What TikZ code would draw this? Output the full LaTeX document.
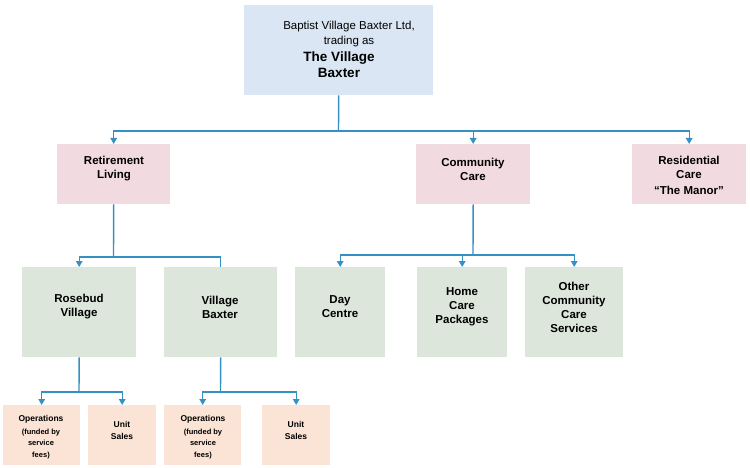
\documentclass[tikz,border=0pt]{standalone}
\usepackage{fontspec}
\setmainfont{Liberation Sans}
\usetikzlibrary{arrows.meta}
\definecolor{cblue}{HTML}{DAE6F3}
\definecolor{cpink}{HTML}{F2DBE0}
\definecolor{cgreen}{HTML}{DCE6DB}
\definecolor{cpeach}{HTML}{FBE4D5}
\definecolor{cline}{HTML}{3590C4}
\tikzset{
  box/.style={draw=none,inner sep=0pt,anchor=north west},
  lbl/.style={align=center,inner sep=0pt,font=\bfseries\fontsize{11.5}{14}\selectfont},
  sml/.style={align=center,inner sep=0pt,font=\bfseries\fontsize{8}{11.5}\selectfont},
  conn/.style={draw=cline,line width=1.4pt},
  arr/.style={conn,-{Triangle[length=6pt,width=6.5pt]}}
}
\begin{document}
\begin{tikzpicture}[x=1pt,y=-1pt]
\useasboundingbox[fill=white] (0,0) rectangle (750,468);
% boxes
\node[box,fill=cblue,minimum width=189pt,minimum height=90pt] (top) at (244,5) {};
\node[box,fill=cpink,minimum width=113pt,minimum height=60pt] (rl) at (57,144) {};
\node[box,fill=cpink,minimum width=114pt,minimum height=60pt] (cc) at (416,144) {};
\node[box,fill=cpink,minimum width=114pt,minimum height=60pt] (rc) at (632,144) {};
\node[box,fill=cgreen,minimum width=114pt,minimum height=90pt] (rv) at (22,267) {};
\node[box,fill=cgreen,minimum width=113pt,minimum height=90pt] (vb) at (164,267) {};
\node[box,fill=cgreen,minimum width=90pt,minimum height=90pt] (dc) at (295,267) {};
\node[box,fill=cgreen,minimum width=90pt,minimum height=90pt] (hc) at (417,267) {};
\node[box,fill=cgreen,minimum width=98pt,minimum height=90pt] (oc) at (525,267) {};
\node[box,fill=cpeach,minimum width=77pt,minimum height=60pt] (op1) at (3,405) {};
\node[box,fill=cpeach,minimum width=68pt,minimum height=60pt] (us1) at (88,405) {};
\node[box,fill=cpeach,minimum width=77pt,minimum height=60pt] (op2) at (164,405) {};
\node[box,fill=cpeach,minimum width=68pt,minimum height=60pt] (us2) at (262,405) {};
% texts
\node[align=center,inner sep=0pt,font=\fontsize{11.5}{15}\selectfont] (t1) at (349,34) {Baptist Village Baxter Ltd,\\trading as};
\node[lbl,font=\bfseries\fontsize{13.5}{16}\selectfont] (t2) at (339,65) {The Village\\Baxter};
\node[lbl] (trl) at (114,169) {Retirement\\Living};
\node[lbl] (tcc) at (473,169) {Community\\Care};
\node[lbl] (trc) at (689,175) {Residential\\Care\\[2pt]``The Manor''};
\node[lbl] (trv) at (79,307) {Rosebud\\Village};
\node[lbl] (tvb) at (220,307) {Village\\Baxter};
\node[lbl] (tdc) at (340,307) {Day\\Centre};
\node[lbl] (thc) at (462,307) {Home\\Care\\Packages};
\node[lbl] (toc) at (574,307) {Other\\Community\\Care\\Services};
\node[sml] (top1) at (41,437) {{\fontsize{8.5}{11}\selectfont Operations}\\[1pt]{\fontsize{7.5}{10.5}\selectfont (funded by}\\{\fontsize{7.5}{10.5}\selectfont service}\\{\fontsize{7.5}{10.5}\selectfont fees)}};
\node[sml,font=\bfseries\fontsize{8.5}{12}\selectfont] (tus1) at (122,430) {Unit\\Sales};
\node[sml] (top2) at (203,437) {{\fontsize{8.5}{11}\selectfont Operations}\\[1pt]{\fontsize{7.5}{10.5}\selectfont (funded by}\\{\fontsize{7.5}{10.5}\selectfont service}\\{\fontsize{7.5}{10.5}\selectfont fees)}};
\node[sml,font=\bfseries\fontsize{8.5}{12}\selectfont] (tus2) at (296,430) {Unit\\Sales};
% connectors
\coordinate (b0) at (338.5,131);
\draw[conn] (top.south) -- (b0);
\draw[arr] (b0) -| (rl.north);
\draw[arr] (b0) -| (cc.north);
\draw[arr] (b0) -| (rc.north);
\coordinate (b1) at (113.5,257);
\draw[conn] (rl.south) -- (b1);
\draw[arr] (b1) -| (rv.north);
\draw[conn] (b1) -| (vb.north);
\coordinate (b2) at (473,255);
\draw[conn] (cc.south) -- (b2);
\draw[arr] (b2) -| (dc.north);
\draw[arr] (b2) -| (hc.north);
\draw[arr] (b2) -| (oc.north);
\coordinate (b3) at (79,392);
\draw[conn] (rv.south) -- (b3);
\draw[arr] (b3) -| (op1.north);
\draw[arr] (b3) -| (us1.north);
\coordinate (b4) at (220.5,392);
\draw[conn] (vb.south) -- (b4);
\draw[arr] (b4) -| (op2.north);
\draw[arr] (b4) -| (us2.north);
\end{tikzpicture}
\end{document}
